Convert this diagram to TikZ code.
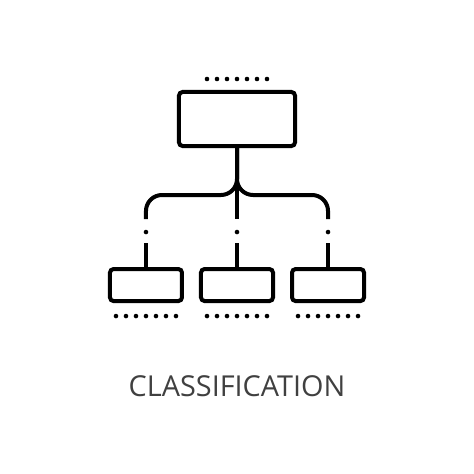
\documentclass[tikz,border=0pt]{standalone}
\usepackage{fontspec}
\setmainfont{Open Sans}
\usetikzlibrary{positioning, calc}

\begin{document}
\begin{tikzpicture}[x=0.025cm, y=-0.025cm,
    line width=0.1cm,
    box/.style={draw, rounded corners=0.9mm, inner sep=0pt},
    link/.style={draw, rounded corners=0.4cm},
    dot/.style={fill, circle, inner sep=0pt, minimum size=0.115cm}
]
    \useasboundingbox (0,0) rectangle (474,474);

    \node [box,
        minimum width=2.9cm,
        minimum height=1.35cm
    ] (root) at (237,119) {};

    \node [box,
        minimum width=1.8cm,
        minimum height=0.8cm,
        below=2.975cm of root
    ] (mid) {};

    \node [box,
        minimum width=1.8cm,
        minimum height=0.8cm,
        left=0.375cm of mid
    ] (left) {};

    \node [box,
        minimum width=1.8cm,
        minimum height=0.8cm,
        right=0.375cm of mid
    ] (right) {};

    % dotted rows
    \foreach \i in {-3,...,3} {
        \node [dot] at ($(root.north)+(\i*10,-11)$) {};
        \node [dot] at ($(left.south)+(\i*10,13)$) {};
        \node [dot] at ($(mid.south)+(\i*10,13)$) {};
        \node [dot] at ($(right.south)+(\i*10,13)$) {};
    }

    % branch ends and dots
    \foreach \n in {left, mid, right} {
        \coordinate (\n-end) at ($(\n.north)+(0,-48)$);
        \coordinate (\n-in) at ($(\n.north)+(0,-24)$);
        \node [dot] (\n-dot) at ($(\n.north)+(0,-35)$) {};
    }

    % fork
    \path [link] (root.south) -- (root.south |- 0,195) -| (left-end);
    \path [link] (root.south) -- (root.south |- 0,195) -| (right-end);
    \draw (root.south) -- (mid-end);

    \draw (left-in) -- (left.north);
    \draw (mid-in) -- (mid.north);
    \draw (right-in) -- (right.north);

    \node [text=black!75, font=\fontsize{20.5}{24}\selectfont] (title) at (237,386) {CLASSIFICATION};
\end{tikzpicture}
\end{document}
